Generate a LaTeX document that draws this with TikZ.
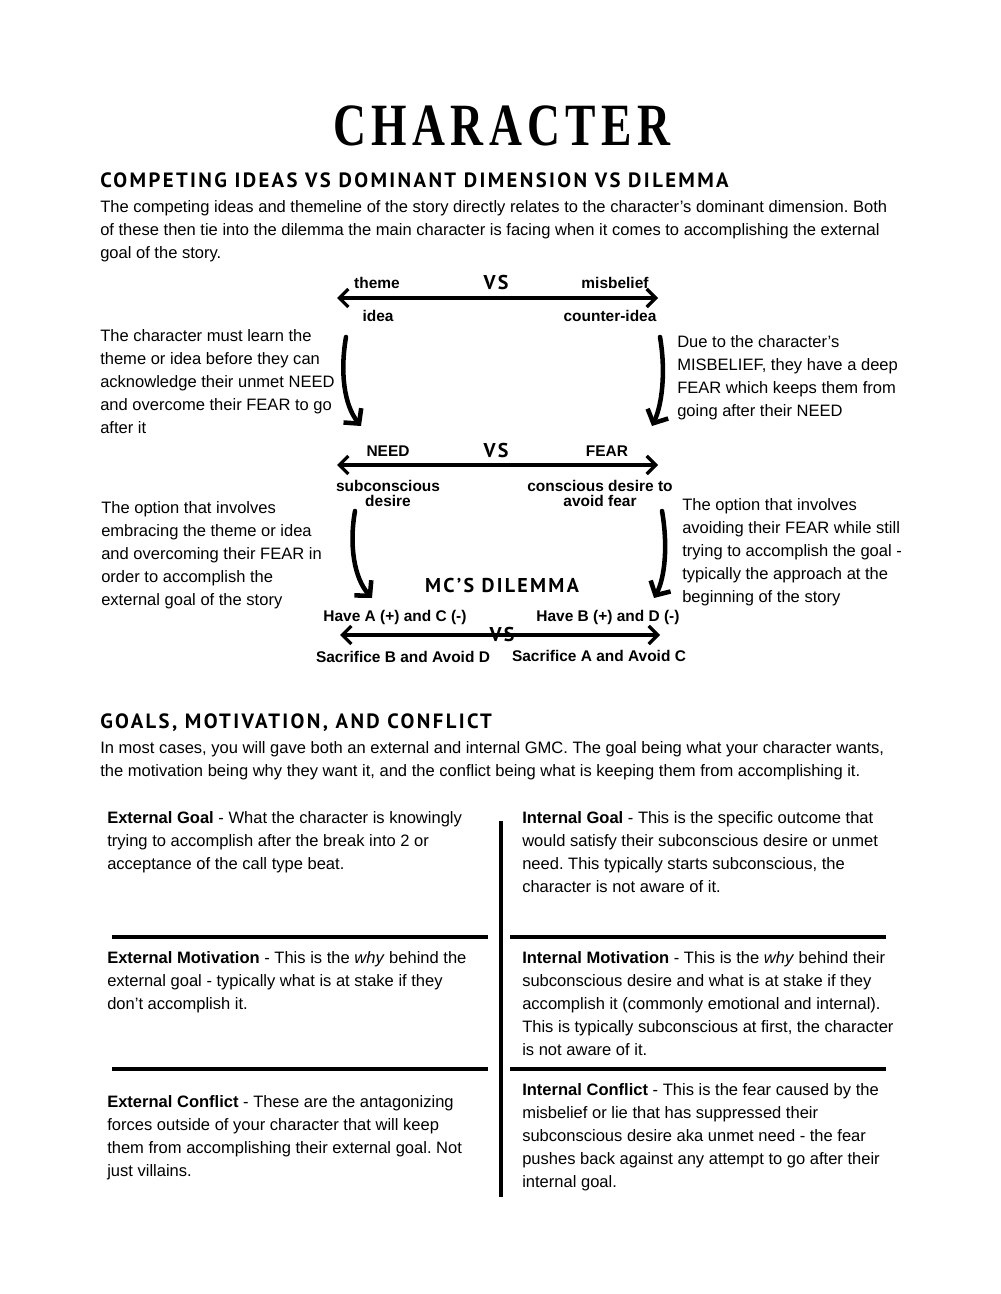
\documentclass[tikz,border=0pt]{standalone}
\usepackage{fontspec}
\setmainfont{Liberation Sans}
\newfontfamily\titlefont[FakeStretch=0.76,LetterSpace=9]{Liberation Serif}
\newfontfamily\headfont[LetterSpace=11.5]{PT Sans}
\usetikzlibrary{arrows.meta}
\frenchspacing

\begin{document}
\begin{tikzpicture}[x=0.75pt,y=-0.75pt,>={Straight Barb[length=2.4mm,width=4.8mm]},line cap=round,line join=round,
  body/.style={anchor=north west,inner sep=0pt,align=left,font=\fontsize{12.4}{17.25}\selectfont},
  lbl/.style={inner sep=0pt,align=center,font=\bfseries\fontsize{11.6}{11.25}\selectfont},
  vs/.style={inner sep=0pt,font=\headfont\bfseries\fontsize{15}{15}\selectfont},
  heading/.style={anchor=base west,inner sep=0pt,font=\headfont\bfseries\fontsize{15.5}{18}\selectfont},
  vsline/.style={<->,line width=2.4pt},
  curvearrow/.style={->,line width=3.4pt,>={Straight Barb[length=2.8mm,width=6mm]}},
  rule/.style={line width=3pt,line cap=butt}]
\useasboundingbox (0,0) rectangle (1000,1294);

% title and first section
\node[anchor=base,inner sep=0pt,font=\titlefont\bfseries\fontsize{45}{48}\selectfont] (title) at (502,146) {CHARACTER};
\node[heading] (head1) at (100,188) {COMPETING IDEAS VS DOMINANT DIMENSION VS DILEMMA};
\node[body] (intro) at (100,200) {The competing ideas and themeline of the story directly relates to the character’s dominant dimension. Both\\of these then tie into the dilemma the main character is facing when it comes to accomplishing the external\\goal of the story.};

% theme vs misbelief
\coordinate (themeL) at (337,298);
\coordinate (themeR) at (658,298);
\draw[vsline] (themeL) -- (themeR);
\node[lbl,anchor=base] (theme) at (377,289) {theme};
\node[lbl,anchor=base] (misbelief) at (615,289) {misbelief};
\node[vs,anchor=base] (vs1) at (496,290) {VS};
\node[lbl,anchor=base] (idea) at (378,321) {idea};
\node[lbl,anchor=base] (counter) at (610,321) {counter-idea};

\node[body] (learn) at (100,329) {The character must learn the\\theme or idea before they can\\acknowledge their unmet NEED\\and overcome their FEAR to go\\after it};
\node[body] (due) at (677,335) {Due to the character’s\\MISBELIEF, they have a deep\\FEAR which keeps them from\\going after their NEED};

\coordinate (c1a) at (346,337);
\coordinate (c1b) at (361,426);
\coordinate (c2a) at (660,337);
\coordinate (c2b) at (652,426);
\draw[curvearrow] (c1a) .. controls (340,372) and (344,405) .. (c1b);
\draw[curvearrow] (c2a) .. controls (666,372) and (662,405) .. (c2b);

% need vs fear
\coordinate (needL) at (337,465);
\coordinate (needR) at (658,465);
\draw[vsline] (needL) -- (needR);
\node[lbl,anchor=base] (need) at (388,456) {NEED};
\node[lbl,anchor=base] (fear) at (607,456) {FEAR};
\node[vs,anchor=base] (vs2) at (496,457) {VS};
\node[lbl,anchor=north] (subdesire) at (388,480) {subconscious\\desire};
\node[lbl,anchor=north] (condesire) at (600,480) {conscious desire to\\avoid fear};

\node[body] (embrace) at (101,501) {The option that involves\\embracing the theme or idea\\and overcoming their FEAR in\\order to accomplish the\\external goal of the story};
\node[body] (avoid) at (682,498) {The option that involves\\avoiding their FEAR while still\\trying to accomplish the goal -\\typically the approach at the\\beginning of the story};

\coordinate (c3a) at (355,511);
\coordinate (c3b) at (372,598);
\coordinate (c4a) at (662,511);
\coordinate (c4b) at (654,598);
\draw[curvearrow] (c3a) .. controls (349,545) and (354,578) .. (c3b);
\draw[curvearrow] (c4a) .. controls (668,545) and (665,578) .. (c4b);

% dilemma
\node[vs,anchor=base] (dilemma) at (502,592) {MC’S DILEMMA};
\node[lbl,anchor=base] (haveA) at (395,621) {Have A (+) and C (-)};
\node[lbl,anchor=base] (haveB) at (608,621) {Have B (+) and D (-)};
\coordinate (dilL) at (340,635);
\coordinate (dilR) at (660,635);
\draw[vsline] (dilL) -- (dilR);
\node[vs,anchor=base] (vs3) at (502,641) {VS};
\node[lbl,anchor=base] (sacB) at (403,662) {Sacrifice B and Avoid D};
\node[lbl,anchor=base] (sacA) at (599,661) {Sacrifice A and Avoid C};

% goals, motivation, conflict
\node[heading] (head2) at (100,728) {GOALS, MOTIVATION, AND CONFLICT};
\node[body] (gmc) at (100,741) {In most cases, you will gave both an external and internal GMC. The goal being what your character wants,\\the motivation being why they want it, and the conflict being what is keeping them from accomplishing it.};

\coordinate (midT) at (501,821);
\coordinate (midB) at (501,1197);
\draw[rule] (midT) -- (midB);
\coordinate (l1a) at (112,937);
\coordinate (l1b) at (488,937);
\coordinate (r1a) at (510,937);
\coordinate (r1b) at (886,937);
\coordinate (l2a) at (112,1069);
\coordinate (l2b) at (488,1069);
\coordinate (r2a) at (510,1069);
\coordinate (r2b) at (886,1069);
\draw[rule] (l1a) -- (l1b);
\draw[rule] (r1a) -- (r1b);
\draw[rule] (l2a) -- (l2b);
\draw[rule] (r2a) -- (r2b);

\node[body] (extgoal) at (107,811) {\textbf{External Goal} - What the character is knowingly\\trying to accomplish after the break into 2 or\\acceptance of the call type beat.};
\node[body] (intgoal) at (522,811) {\textbf{Internal Goal} - This is the specific outcome that\\would satisfy their subconscious desire or unmet\\need. This typically starts subconscious, the\\character is not aware of it.};
\node[body] (extmot) at (107,951) {\textbf{External Motivation} - This is the \textit{why} behind the\\external goal - typically what is at stake if they\\don’t accomplish it.};
\node[body] (intmot) at (522,951) {\textbf{Internal Motivation} - This is the \textit{why} behind their\\subconscious desire and what is at stake if they\\accomplish it (commonly emotional and internal).\\This is typically subconscious at first, the character\\is not aware of it.};
\node[body] (extcon) at (107,1095) {\textbf{External Conflict} - These are the antagonizing\\forces outside of your character that will keep\\them from accomplishing their external goal. Not\\just villains.};
\node[body] (intcon) at (522,1083) {\textbf{Internal Conflict} - This is the fear caused by the\\misbelief or lie that has suppressed their\\subconscious desire aka unmet need - the fear\\pushes back against any attempt to go after their\\internal goal.};
\end{tikzpicture}
\end{document}
